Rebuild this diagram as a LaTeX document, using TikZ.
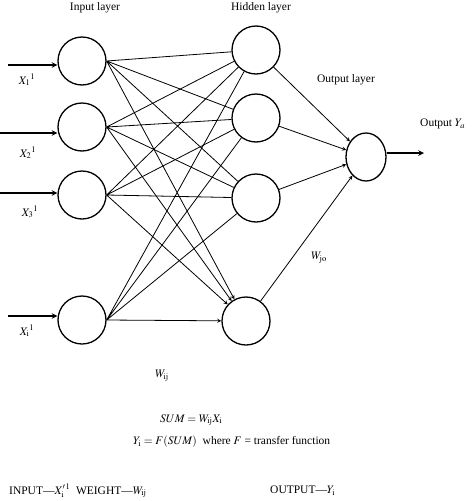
\documentclass[tikz,border=0pt]{standalone}
\usepackage{mathptmx}
\usepackage{fontspec}
\setmainfont{Liberation Serif}
\usetikzlibrary{shapes.geometric}

\begin{document}
\begin{tikzpicture}
[x=1pt,y=-1pt,>=stealth,
 neuron/.style={draw,circle,line width=1.3pt,minimum size=48pt,inner sep=0pt},
 outneuron/.style={draw,ellipse,line width=1.3pt,minimum width=40pt,minimum height=48pt,inner sep=0pt},
 txt/.style={font=\fontsize{11.5}{13}\selectfont,inner sep=0pt}]

% the frame of the picture
\useasboundingbox (0,0) rectangle (474,501);

% the neurons
\node (I1) at (82,61)[neuron] {};
\node (I2) at (82,127)[neuron] {};
\node (I3) at (82,195)[neuron] {};
\node (I4) at (82,320)[neuron] {};
\node (H1) at (256,50)[neuron] {};
\node (H2) at (256,118)[neuron] {};
\node (H3) at (256,198)[neuron] {};
\node (H4) at (246,321)[neuron] {};
\node (O) at (366,157)[outneuron] {};

% the inputs
\coordinate (x1) at (8,65);
\coordinate (x2) at (0,133);
\coordinate (x3) at (0,193);
\coordinate (x4) at (8,316);
\draw[line width=1.5pt,->] (x1) -- (x1 -| I1.west);
\draw[line width=1.5pt,->] (x2) -- (x2 -| I2.west);
\draw[line width=1.5pt,->] (x3) -- (x3 -| I3.west);
\draw[line width=1.5pt,->] (x4) -- (x4 -| I4.west);

% the weights W_ij
\draw[thick,->] (I1.east) -- (H1) (I1.east) -- (H2) (I1.east) -- (H3) (I1.east) -- (H4);
\draw[thick,->] (I2.east) -- (H1) (I2.east) -- (H2) (I2.east) -- (H3) (I2.east) -- (H4);
\draw[thick,->] (I3.east) -- (H1) (I3.east) -- (H2) (I3.east) -- (H3) (I3.east) -- (H4);
\draw[thick,->] (I4.east) -- (H1) (I4.east) -- (H2) (I4.east) -- (H3) (I4.east) -- (H4);

% the weights W_jo
\draw[thick,->] (H1) -- (O);
\draw[thick,->] (H2) -- (O);
\draw[thick,->] (H3) -- (O);
\draw[thick,->] (H4) -- (O);

% the output
\coordinate (y) at (424,153);
\draw[line width=1.5pt,->] (O.east |- y) -- (y);

% labelling the layers
\node (inlayer) at (95,8)[txt] {Input layer};
\node (hidlayer) at (261,8)[txt] {Hidden layer};
\node (outlayer) at (346,80)[txt] {Output layer};
\node (outlabel) at (420,124)[txt,anchor=west] {Output $Y_a$};

% labelling the inputs
\node (lx1) at (27,80)[txt] {$X_1{}^1$};
\node (lx2) at (28,153)[txt] {$X_2{}^1$};
\node (lx3) at (30,212)[txt] {$X_3{}^1$};
\node (lx4) at (27,331)[txt] {$X_{\mathrm{i}}{}^1$};

% labelling the weights
\node (wij) at (162,376)[txt] {$W_{\mathrm{ij}}$};
\node (wjo) at (319,258)[txt] {$W_{\mathrm{jo}}$};

% the formulas
\node (sum) at (160,420)[txt,anchor=west] {$SUM = W_{\mathrm{ij}}X_{\mathrm{i}}$};
\node (fsum) at (133,442)[txt,anchor=west] {$Y_{\mathrm{i}} = F(SUM)$\ \ where $F$ = transfer function};
\node (legin) at (9,491)[txt,anchor=west] {INPUT---$X'_{\mathrm{i}}{}^1$\ \ WEIGHT---$W_{\mathrm{ij}}$};
\node (legout) at (270,491)[txt,anchor=west] {OUTPUT---$Y_{\mathrm{i}}$};

\end{tikzpicture}
\end{document}
